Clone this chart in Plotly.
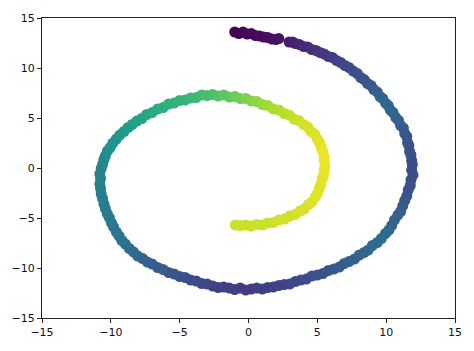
import plotly.graph_objects as go

# Outer arc: start (top) to right side
outer_top_x = [-1.0, -0.7, -0.4, -0.1, 0.2, 0.5, 0.8, 1.1, 1.4, 1.7, 2.0, 2.2, 2.95, 3.2, 3.4, 3.7, 4.0, 4.3, 4.6, 4.9,
               5.2, 5.5, 5.8, 6.1, 6.4, 6.7, 7.0, 7.3, 7.6, 7.9, 8.15, 8.4, 8.65, 8.9, 9.1, 9.35, 9.55, 9.75, 9.95, 10.15,
               10.3, 10.5, 10.7, 10.9, 11.05, 11.25, 11.35, 11.5, 11.55, 11.65, 11.7, 11.8, 11.85, 11.9]
outer_top_y = [13.6, 13.45, 13.6, 13.4, 13.45, 13.25, 13.2, 13.1, 13.05, 12.9, 12.85, 12.95, 12.6, 12.6, 12.45, 12.35, 12.15, 12.1, 11.85, 11.75,
               11.55, 11.4, 11.15, 11.05, 10.75, 10.55, 10.25, 10.05, 9.7, 9.45, 9.05, 8.85, 8.45, 8.25, 7.85, 7.6, 7.15, 6.95, 6.5, 6.25,
               5.8, 5.55, 5.05, 4.75, 4.25, 4.0, 3.45, 3.15, 2.55, 2.25, 1.65, 1.3, 0.75, 0.35]
outer_top_c = [0.00, 0.00, 0.01, 0.01, 0.02, 0.02, 0.03, 0.03, 0.04, 0.04, 0.05, 0.05, 0.07, 0.08, 0.09, 0.10, 0.11, 0.12, 0.13, 0.14,
               0.15, 0.16, 0.17, 0.18, 0.19, 0.20, 0.21, 0.22, 0.23, 0.24, 0.25, 0.26, 0.27, 0.28, 0.29, 0.30, 0.31, 0.32, 0.33, 0.33,
               0.33, 0.33, 0.32, 0.31, 0.30, 0.29, 0.28, 0.27, 0.27, 0.26, 0.25, 0.25, 0.24, 0.24]

# Outer arc: right side down to bottom
outer_right_x = [11.85, 11.95, 11.8, 11.75, 11.6, 11.5, 11.35, 11.2, 11.05, 10.85, 10.6, 10.4, 10.2, 9.95, 9.65, 9.35, 9.0, 8.7, 8.4, 8.05,
                 7.7, 7.3, 6.95, 6.6, 6.2, 5.8, 5.4, 5.0, 4.6, 4.2, 3.8, 3.4, 3.0, 2.6, 2.2, 1.8, 1.4, 1.0, 0.6, 0.2, -0.2]
outer_right_y = [-0.2, -0.7, -1.2, -1.75, -2.2, -2.8, -3.25, -3.8, -4.35, -4.7, -5.2, -5.75, -6.2, -6.55, -7.05, -7.45, -7.75, -8.2, -8.45, -8.7,
                 -9.1, -9.35, -9.55, -9.9, -10.1, -10.25, -10.55, -10.7, -10.8, -11.1, -11.2, -11.35, -11.6, -11.65, -11.75, -11.9, -11.95, -12.1, -12.0, -12.1, -12.2]
outer_right_c = [0.24, 0.24, 0.24, 0.25, 0.25, 0.26, 0.27, 0.28, 0.29, 0.30, 0.31, 0.32, 0.33, 0.34, 0.35, 0.35, 0.34, 0.34, 0.33, 0.33,
                 0.32, 0.31, 0.30, 0.29, 0.28, 0.27, 0.26, 0.26, 0.25, 0.24, 0.23, 0.22, 0.22, 0.21, 0.20, 0.20, 0.19, 0.19, 0.18, 0.18, 0.18]

# Outer arc: bottom to left and up
outer_left_x = [-0.6, -1.0, -1.4, -1.8, -2.2, -2.6, -3.0, -3.4, -3.8, -4.2, -4.6, -5.0, -5.4, -5.8, -6.2, -6.6, -7.0, -7.35, -7.7, -8.05,
                -8.35, -8.65, -8.95, -9.2, -9.4, -9.6, -9.8, -9.95, -10.1, -10.25, -10.4, -10.5, -10.6, -10.7, -10.75, -10.8, -10.75, -10.8, -10.7, -10.6,
                -10.5, -10.4, -10.25, -10.05, -9.85, -9.6, -9.35, -9.05, -8.75, -8.45]
outer_left_y = [-12.0, -12.15, -12.0, -11.9, -11.95, -11.8, -11.6, -11.55, -11.3, -11.2, -10.95, -10.85, -10.6, -10.45, -10.15, -9.95, -9.6, -9.4, -9.05, -8.8,
                -8.4, -8.05, -7.6, -7.25, -6.8, -6.4, -5.9, -5.5, -5.0, -4.6, -4.05, -3.6, -3.05, -2.6, -2.05, -1.6, -1.05, -0.6, -0.05, 0.35,
                0.85, 1.2, 1.7, 2.05, 2.5, 2.9, 3.3, 3.65, 4.05, 4.35]
outer_left_c = [0.18, 0.18, 0.19, 0.19, 0.20, 0.20, 0.21, 0.22, 0.23, 0.23, 0.24, 0.25, 0.26, 0.27, 0.28, 0.29, 0.30, 0.31, 0.32, 0.33,
                0.34, 0.35, 0.36, 0.37, 0.38, 0.39, 0.39, 0.40, 0.40, 0.41, 0.41, 0.42, 0.42, 0.43, 0.43, 0.44, 0.44, 0.45, 0.45, 0.46,
                0.47, 0.48, 0.49, 0.50, 0.51, 0.52, 0.53, 0.54, 0.55, 0.56]

# Inner arc: top-left over to the end
inner_x = [-8.1, -7.75, -7.4, -7.0, -6.6, -6.2, -5.8, -5.4, -5.0, -4.6, -4.2, -3.8, -3.4, -3.0, -2.6, -2.2, -1.8, -1.4, -1.0, -0.6,
           -0.2, 0.2, 0.6, 1.0, 1.4, 1.8, 2.2, 2.6, 2.95, 3.3, 3.65, 4.0, 4.3, 4.55, 4.8, 5.0, 5.15, 5.3, 5.4, 5.5,
           5.5, 5.55, 5.5, 5.45, 5.35, 5.25, 5.15, 5.0, 4.85, 4.6, 4.35, 4.05, 3.75, 3.4, 3.0, 2.6, 2.2, 1.8, 1.4, 1.0,
           0.6, 0.2, -0.2, -0.6, -0.95]
inner_y = [4.7, 4.95, 5.35, 5.55, 5.9, 6.05, 6.4, 6.5, 6.75, 6.8, 7.0, 7.05, 7.3, 7.25, 7.35, 7.2, 7.3, 7.1, 7.15, 6.95,
           6.95, 6.7, 6.65, 6.35, 6.25, 5.9, 5.8, 5.45, 5.3, 4.9, 4.75, 4.35, 4.1, 3.65, 3.4, 2.9, 2.55, 2.0, 1.65, 1.1,
           0.7, 0.15, -0.2, -0.75, -1.1, -1.65, -2.0, -2.55, -2.9, -3.4, -3.65, -4.1, -4.3, -4.65, -4.8, -5.1, -5.2, -5.45, -5.5, -5.7,
           -5.65, -5.8, -5.7, -5.75, -5.7]
inner_c = [0.57, 0.58, 0.59, 0.60, 0.61, 0.62, 0.63, 0.64, 0.65, 0.66, 0.67, 0.68, 0.69, 0.70, 0.71, 0.72, 0.74, 0.75, 0.77, 0.78,
           0.80, 0.81, 0.83, 0.84, 0.86, 0.87, 0.88, 0.89, 0.90, 0.91, 0.92, 0.93, 0.94, 0.94, 0.95, 0.95, 0.96, 0.96, 0.97, 0.97,
           0.97, 0.97, 0.97, 0.97, 0.96, 0.96, 0.96, 0.96, 0.95, 0.95, 0.95, 0.94, 0.94, 0.94, 0.93, 0.93, 0.93, 0.93, 0.92, 0.92,
           0.92, 0.92, 0.92, 0.92, 0.92]

tick_vals = [-15, -10, -5, 0, 5, 10, 15]

xs = outer_top_x + outer_right_x + outer_left_x + inner_x
ys = outer_top_y + outer_right_y + outer_left_y + inner_y
cs = outer_top_c + outer_right_c + outer_left_c + inner_c

fig = go.Figure(go.Scatter(
    x=xs, y=ys, mode="markers",
    marker=dict(size=11, color=cs, colorscale="Viridis", cmin=0, cmax=1, line=dict(width=0)),
    hoverinfo="skip", showlegend=False,
))

axis_common = dict(
    tickvals=tick_vals, ticks="outside", ticklen=4, tickwidth=1, tickcolor="#222",
    showline=True, linecolor="#222", linewidth=1, mirror=True,
    showgrid=False, zeroline=False,
    tickfont=dict(family="DejaVu Sans", size=11, color="#111"),
)
fig.update_xaxes(range=[-15, 15], **axis_common)
fig.update_yaxes(range=[-15, 15], **axis_common)
fig.update_layout(
    width=474, height=351,
    margin=dict(l=41, r=15, t=13, b=28),
    plot_bgcolor="white", paper_bgcolor="white",
)
fig.write_html("out.html")
